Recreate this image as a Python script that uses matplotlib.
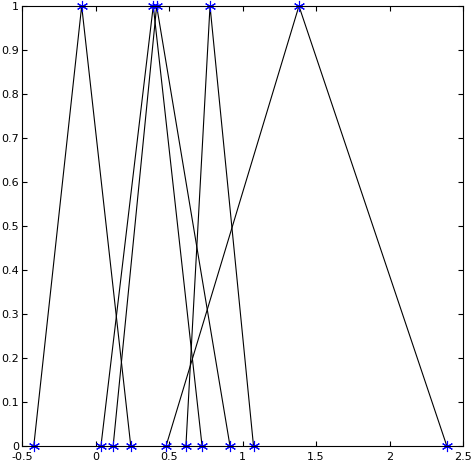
import matplotlib
matplotlib.use("Agg")
import matplotlib.pyplot as plt

# triangular membership functions: (left, peak, right)
left = [-0.42, 0.037, 0.12, 0.615, 0.48]
peak = [-0.094, 0.393, 0.416, 0.779, 1.384]
right = [0.24, 0.725, 0.915, 1.075, 2.39]

fig = plt.figure(figsize=(4.74, 4.66), dpi=100)
ax = fig.add_axes([22 / 474, 20 / 466, 441 / 474, 440 / 466])
for a, b, c in zip(left, peak, right):
    ax.plot([a, b, c], [0, 1, 0], color="black", lw=0.8)
    ax.plot([a, b, c], [0, 1, 0], ls="none", marker=(6, 2, 0), color="blue",
            ms=8, mew=0.8, clip_on=False)
ax.set_xlim(-0.5, 2.5)
ax.set_ylim(0, 1)
ax.set_xticks([-0.5, 0, 0.5, 1, 1.5, 2, 2.5])
ax.set_xticklabels(["-0.5", "0", "0.5", "1", "1.5", "2", "2.5"])
ax.set_yticks([i / 10 for i in range(11)])
ax.set_yticklabels(["0", "0.1", "0.2", "0.3", "0.4", "0.5", "0.6", "0.7", "0.8", "0.9", "1"])
ax.tick_params(direction="in", labelsize=8, pad=2, top=True, right=True)
ax.tick_params(axis="x", pad=4)
fig.savefig("out.png")
